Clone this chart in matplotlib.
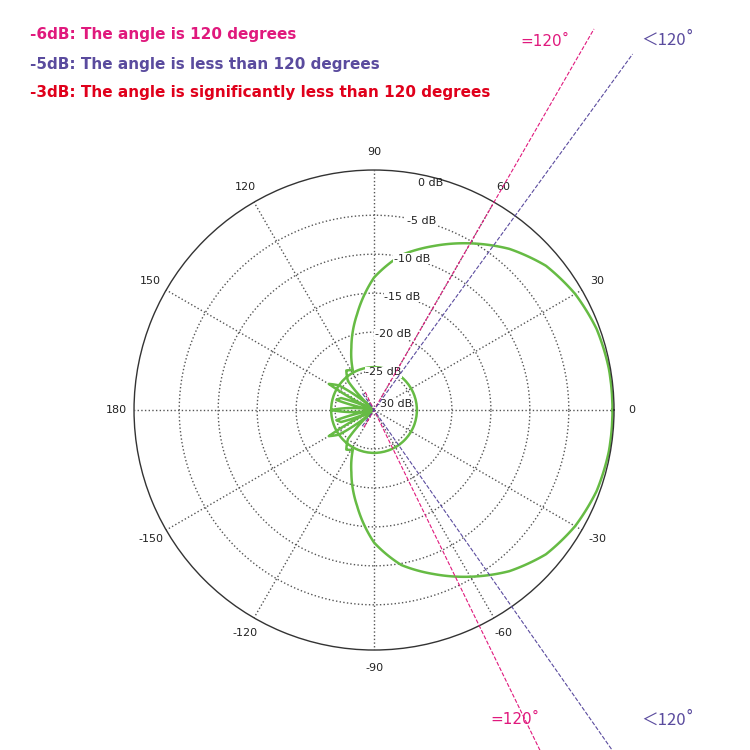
import matplotlib.pyplot as plt
import numpy as np

# pattern (upper half, mirrored for lower half), degrees / dB
angles = [0, 10, 20, 30, 40, 50, 60, 70, 80, 90, 100, 110, 118, 125, 132, 138, 145, 150, 155, 160, 165, 170, 175, 180]
levels = [0.6, 0.6, 0.4, -0.2, -1.2, -3.0, -5.3, -7.6, -9.8, -13.0, -17.5, -21.5, -24.2, -23.8, -25.0, -29.5, -24.5, -23.3, -29.8, -25.5, -25.0, -29.8, -27.0, -24.5]
ringLevels = [0, -5, -10, -15, -20, -25, -30]
spokeAngles = [0, 30, 60, 90, 120, 150, 180, -150, -120, -90, -60, -30]
notes = ["-6dB: The angle is 120 degrees",
         "-5dB: The angle is less than 120 degrees",
         "-3dB: The angle is significantly less than 120 degrees"]
noteColors = ["#e0197d", "#5a4b9e", "#e0001b"]

rmin, rmax = -30, 0.8

fig = plt.figure(figsize=(7.5, 7.5), dpi=100)
ax = fig.add_axes([0.1787, 0.1333, 0.64, 0.64], projection='polar')
ax.set_ylim(rmin, rmax)
ax.grid(False)
ax.set_xticks([])
ax.set_yticks([])
ax.spines['polar'].set_color('#333333')
ax.spines['polar'].set_linewidth(1)

t = np.linspace(0, 2 * np.pi, 300)
for lv in ringLevels[1:-1]:
    ax.plot(t, np.full_like(t, lv), ':', color='#555555', lw=1)
for a in spokeAngles:
    ax.plot([np.radians(a)] * 2, [rmin, rmax], ':', color='#555555', lw=1)
    ax.text(np.radians(a), rmax + 2.3, str(a), ha='center', va='center', fontsize=8, color='#222222')
for lv in ringLevels:
    ax.text(np.radians(76), max(lv, -29.2), f"{lv} dB", ha='left' if lv == -30 else 'center',
            va='center', fontsize=8, color='#222222',
            bbox=dict(facecolor='white', edgecolor='none', pad=0.5) if lv != 0 else None)

angs = np.array(angles + [-a for a in angles[::-1]])
lvls = np.array(levels + levels[::-1])
line, = ax.plot(np.radians(angs), lvls, color='#66bb44', lw=1.8)
line.get_path()._interpolation_steps = 30

# overlay in pixel coordinates for guide lines and notes
ov = fig.add_axes([0, 0, 1, 1])
ov.set_xlim(0, 750)
ov.set_ylim(750, 0)
ov.axis('off')
cx, cy = 374, 410
for ang, col in [(60, '#e0197d'), (-64, '#e0197d'), (54, '#5a4b9e'), (-55, '#5a4b9e')]:
    r = np.array([-20, 440])
    ov.plot(cx + r * np.cos(np.radians(ang)), cy - r * np.sin(np.radians(ang)), '--', color=col, lw=0.8)

for i, (s, c) in enumerate(zip(notes, noteColors)):
    ov.text(30, 35 + 29 * i, s, color=c, fontsize=11, fontweight='bold', va='center')
ov.text(545, 42, "=120˚", color='#e0197d', fontsize=11, ha='center', va='center')
ov.text(668, 40, "＜120˚", color='#5a4b9e', fontsize=12, ha='center', va='center',
        family=['Noto Sans CJK SC', 'DejaVu Sans'])
ov.text(515, 720, "=120˚", color='#e0197d', fontsize=11, ha='center', va='center')
ov.text(668, 720, "＜120˚", color='#5a4b9e', fontsize=12, ha='center', va='center',
        family=['Noto Sans CJK SC', 'DejaVu Sans'])

fig.savefig('out.png', dpi=100)
